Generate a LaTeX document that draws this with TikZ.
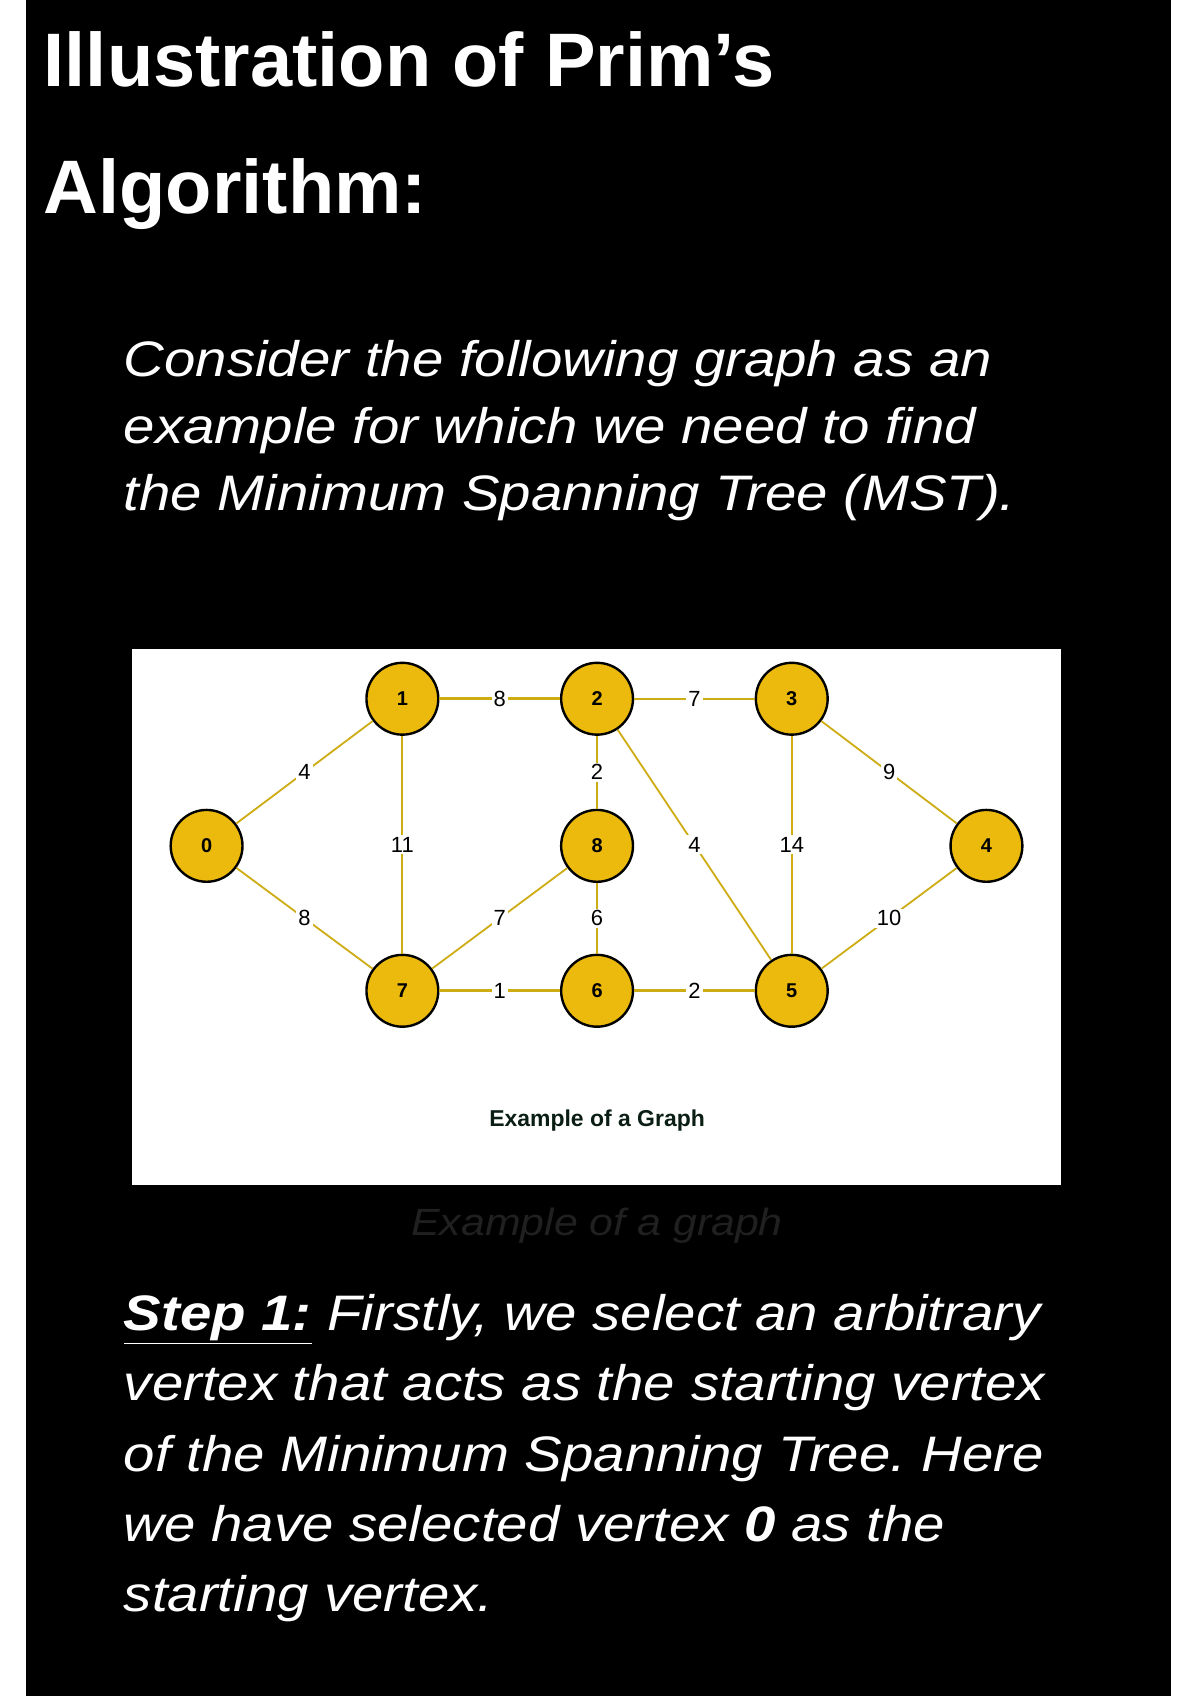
\documentclass[tikz,border=0pt]{standalone}
\usepackage{fontspec}
\setmainfont{Liberation Sans}
\newfontfamily\parafont{Liberation Sans}[FakeStretch=1.13]
\frenchspacing
\begin{document}
\begin{tikzpicture}[x=0.542pt,y=-0.542pt,
  vert/.style={circle,draw=black,line width=1.2pt,fill={rgb,255:red,235;green,186;blue,12},minimum size=36pt,inner sep=0pt,font=\fontsize{10}{12}\selectfont\bfseries},
  edge/.style={draw={rgb,255:red,205;green,172;blue,20},line width=0.9pt},
  wl/.style={fill=white,inner sep=1pt,font=\fontsize{11}{12}\selectfont},
  para/.style={anchor=base west,text=white,font=\parafont\fontsize{25}{30}\selectfont\itshape},
  ttl/.style={anchor=base west,text=white,font=\fontsize{38}{44}\selectfont\bfseries}]
\useasboundingbox (0,0) rectangle (1107,1568);
\fill[white] (0,0) rectangle (1107,1568);
\fill[black] (24,0) rectangle (1083,1568);
\node[ttl] (t1) at (34,80) {Illustration of Prim’s};
\node[ttl] (t2) at (34,197) {Algorithm:};
\node[para] (p1) at (108,348) {Consider the following graph as an};
\node[para] (p2) at (108,410) {example for which we need to find};
\node[para] (p3) at (108,472) {the Minimum Spanning Tree (MST).};
\fill[white] (122,600) rectangle (981,1096);
\node[vert] (n0) at (191,782) {0};
\node[vert] (n1) at (372,646) {1};
\node[vert] (n2) at (552,646) {2};
\node[vert] (n3) at (732,646) {3};
\node[vert] (n4) at (912,782) {4};
\node[vert] (n5) at (732,916) {5};
\node[vert] (n6) at (552,916) {6};
\node[vert] (n7) at (372,916) {7};
\node[vert] (n8) at (552,782) {8};
\path[edge] (n0) -- (n1) node[wl,pos=0.5] {4};
\path[edge] (n0) -- (n7) node[wl,pos=0.5] {8};
\path[edge,line width=1.6pt] (n1) -- (n2) node[wl,pos=0.5] {8};
\path[edge] (n1) -- (n7) node[wl,pos=0.5] {11};
\path[edge] (n2) -- (n3) node[wl,pos=0.5] {7};
\path[edge] (n2) -- (n8) node[wl,pos=0.5] {2};
\path[edge] (n2) -- (n5) node[wl,pos=0.5] {4};
\path[edge] (n3) -- (n4) node[wl,pos=0.5] {9};
\path[edge] (n3) -- (n5) node[wl,pos=0.5] {14};
\path[edge] (n5) -- (n4) node[wl,pos=0.5] {10};
\path[edge] (n7) -- (n8) node[wl,pos=0.5] {7};
\path[edge] (n8) -- (n6) node[wl,pos=0.5] {6};
\path[edge,line width=1.6pt] (n7) -- (n6) node[wl,pos=0.5] {1};
\path[edge,line width=1.6pt] (n6) -- (n5) node[wl,pos=0.5] {2};
\node[font=\fontsize{11.5}{14}\selectfont\bfseries,text={rgb,255:red,10;green,30;blue,20}] (cap) at (552,1036) {Example of a Graph};
\node[font=\parafont\fontsize{19}{22}\selectfont\itshape,text={rgb,255:red,32;green,32;blue,32}] (cap2) at (552,1133) {Example of a graph};
\node[para] (s1) at (108,1230) {\textbf{\underline{Step 1:}} Firstly, we select an arbitrary};
\node[para] (s2) at (108,1295) {vertex that acts as the starting vertex};
\node[para] (s3) at (108,1360) {of the Minimum Spanning Tree. Here};
\node[para] (s4) at (108,1425) {we have selected vertex \textbf{0} as the};
\node[para] (s5) at (108,1490) {starting vertex.};
\end{tikzpicture}
\end{document}
